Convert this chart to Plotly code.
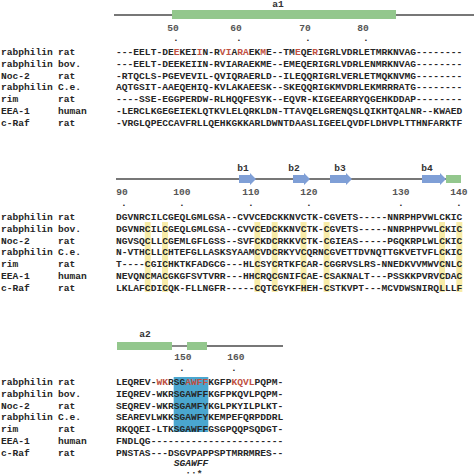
import plotly.graph_objects as go

species = ["rabphilin", "rabphilin", "Noc-2", "rabphilin", "rim", "EEA-1", "c-Raf"]
organisms = ["rat", "bov.", "rat", "C.e.", "rat", "human", "rat"]

block1 = [
    "---EELT-DEEKEIIN-RVIARAEKME--TMEQERIGRLVDRLETMRKNVAG--------",
    "---EELT-DEEKEIIN-RVIARAEKME--EMEQERIGRLVDRLENMRKNVAG--------",
    "-RTQCLS-PGEVEVIL-QVIQRAERLD--ILEQQRIGRLVERLETMQKNVMG--------",
    "AQTGSIT-AAEQEHIQ-KVLAKAEESK--SKEQQRIGKMVDRLEKMRRRATG--------",
    "----SSE-EGGPERDW-RLHQQFESYK--EQVR-KIGEEARRYQGEHKDDAP--------",
    "-LERCLKGEGEIEKLQTKVLELQRKLDN-TTAVQELGRENQSLQIKHTQALNR--KWAED",
    "-VRGLQPECCAVFRLLQEHKGKKARLDWNTDAASLIGEELQVDFLDHVPLTTHNFARKTF",
]
block2 = [
    "DGVNRCILCGEQLGMLGSA--CVVCEDCKKNVCTK-CGVETS-----NNRPHPVWLCKIC",
    "DGVNRCILCGEQLGMLGSA--CVVCEDCKKNVCTK-CGVETS-----NNRPHPVWLCKIC",
    "NGVSQCLLCGEMLGFLGSS--SVFCKDCRKKVCTK-CGIEAS-----PGQKRPLWLCKIC",
    "N-VTHCLLCHTEFGLLASKSYAAMCVDCRKYVCQRNCGVETTDVNQTTGKVETVFLCKIC",
    "T----CGICHKTKFADGCG---HLCSYCRTKFCAR-CGGRVSLRS-NNEDKVVMWVCNLC",
    "NEVQNCMACGKGFSVTVRR---HHCRQCGNIFCAE-CSAKNALT---PSSKKPVRVCDAC",
    "LKLAFCDICQK-FLLNGFR-----CQTCGYKFHEH-CSTKVPT---MCVDWSNIRQLLLF",
]
block3 = [
    "LEQREV-WKRSGAWFFKGFPKQVLPQPM-",
    "IEQREV-WKRSGAWFFKGFPKQVLPQPM-",
    "SEQREV-WKRSGAMFYKGLPKYILPLKT-",
    "SEAREVLWKKSGAWFYKEMPEFQRPDDRL",
    "RKQQEI-LTKSGAWFFGSGPQQPSQDGT-",
    "FNDLQG-----------------------",
    "PNSTAS---DSGVPAPPSPTMRRMRES--",
]
consensus = "SGAWFF"
red_block1_row1 = [10, 14, 18, 19, 21, 22, 25, 31, 34]
red_block3_row1 = [7, 8, 12, 13, 14, 15, 20, 21, 22, 23]
cys_cols = [5, 8, 24, 27, 32, 36, 56, 59]

ticks1 = [("50", 173, 176), ("60", 236, 239), ("70", 305, 308), ("80", 363, 366)]
ticks2 = [("90", 122, 124), ("100", 182, 182), ("110", 251, 251), ("120", 309, 309), ("130", 401, 401), ("140", 459, 459)]
ticks3 = [("150", 183, 182), ("160", 236, 234)]

X0, PITCH = 116.0, 5.77
INK, RED, GREY = "#262626", "#c0503f", "#555555"
GREEN, BLUE, TEAL, YELLOW, LINE = "#93c78d", "#7f9fd6", "#4aa6cf", "#f8eca8", "#4a4a4a"
ROW_TOPS = [53.0, 218.0, 383.0]
ROW_STEP = 11.7
MONO = "Liberation Mono"

fig = go.Figure()
shapes = []


def rect(x0, y0, x1, y1, color):
    shapes.append(dict(type="rect", xref="x", yref="y", x0=x0, x1=x1, y0=y0, y1=y1,
                       fillcolor=color, line_width=0, layer="below"))


def hline(x0, x1, y, width=1.3):
    shapes.append(dict(type="line", xref="x", yref="y", x0=x0, x1=x1, y0=y, y1=y,
                       line=dict(color=LINE, width=width), layer="below"))


def arrow(x0, x1, y):
    tip = x1 - 6
    path = (f"M{x0},{y-4} L{tip},{y-4} L{tip},{y-6} L{x1},{y} "
            f"L{tip},{y+6} L{tip},{y+4} L{x0},{y+4} Z")
    shapes.append(dict(type="path", xref="x", yref="y", path=path, fillcolor=BLUE, line_width=0))


def text(xs, ys, chars, color=INK, size=9.6, weight="bold", style="normal", family=MONO):
    fig.add_trace(go.Scatter(x=xs, y=ys, text=chars, mode="text", hoverinfo="skip", showlegend=False,
                             textposition="middle center",
                             textfont=dict(family=family, size=size, color=color, weight=weight, style=style)))


def cx(col):
    return X0 + (col + 0.5) * PITCH


# highlights
for c in cys_cols:
    rect(cx(c) - 3, 222, cx(c) + 3, 292, YELLOW)
rect(cx(10) - PITCH / 2, 377, cx(15) + PITCH / 2, 432, TEAL)

# secondary-structure tracks
hline(114, 172, 15)
hline(396, 474, 15)
rect(172, 10, 396, 19, GREEN)
hline(116, 447, 179)
arrow(239, 256, 179)
arrow(293, 310, 179)
arrow(330, 352, 179)
arrow(422, 446, 179)
rect(446, 175, 461, 183, GREEN)
hline(172, 187, 346)
hline(207, 283, 346)
rect(117, 342, 172, 350, GREEN)
rect(187, 342, 207, 350, GREEN)

text([278, 243, 294, 340, 427, 145], [5, 169, 169, 169, 169, 335],
     ["a1", "b1", "b2", "b3", "b4", "a2"], color="#333333", size=9.6)

# sequences
for blk, top, reds in zip([block1, block2, block3], ROW_TOPS, [red_block1_row1, [], red_block3_row1]):
    xs, ys, cs, rx, ry, rc = [], [], [], [], [], []
    for r, seq in enumerate(blk):
        y = top + r * ROW_STEP
        for c, ch in enumerate(seq):
            if r == 0 and c in reds:
                rx.append(cx(c)); ry.append(y); rc.append(ch)
            else:
                xs.append(cx(c)); ys.append(y); cs.append(ch)
    text(xs, ys, cs)
    if rc:
        text(rx, ry, rc, color=RED)
    ny = [top + r * ROW_STEP for r in range(len(species))]
    fig.add_trace(go.Scatter(x=[1] * len(species), y=ny, text=species, mode="text", hoverinfo="skip", showlegend=False,
                             textposition="middle right",
                             textfont=dict(family=MONO, size=9.6, color=INK, weight="bold")))
    fig.add_trace(go.Scatter(x=[58] * len(organisms), y=ny, text=organisms, mode="text", hoverinfo="skip",
                             showlegend=False, textposition="middle right",
                             textfont=dict(family=MONO, size=9.6, color=INK, weight="bold")))

# ruler numbers and dots
for tks, ylab, ydot in [(ticks1, 29, 39), (ticks2, 193, 204), (ticks3, 358, 369)]:
    text([t[1] for t in tks], [ylab] * len(tks), [t[0] for t in tks], color=GREY, size=9.6)
    text([t[2] for t in tks], [ydot] * len(tks), ["."] * len(tks), color=INK, size=9.6)

# consensus motif
text([cx(10 + i) for i in range(len(consensus))], [464] * len(consensus), list(consensus),
     style="italic")
text([cx(12), cx(13), cx(14)], [475, 475, 475], [":", ":", "*"], color="#333333")

fig.update_layout(
    width=474, height=474, margin=dict(l=0, r=0, t=0, b=0), autosize=False,
    paper_bgcolor="white", plot_bgcolor="white", shapes=shapes, showlegend=False,
    xaxis=dict(range=[0, 474], visible=False, fixedrange=True),
    yaxis=dict(range=[474, 0], visible=False, fixedrange=True),
)
fig.write_html("out.html", config=dict(displayModeBar=False),
               post_script="document.body.style.margin='0';document.documentElement.style.overflow='hidden';")
